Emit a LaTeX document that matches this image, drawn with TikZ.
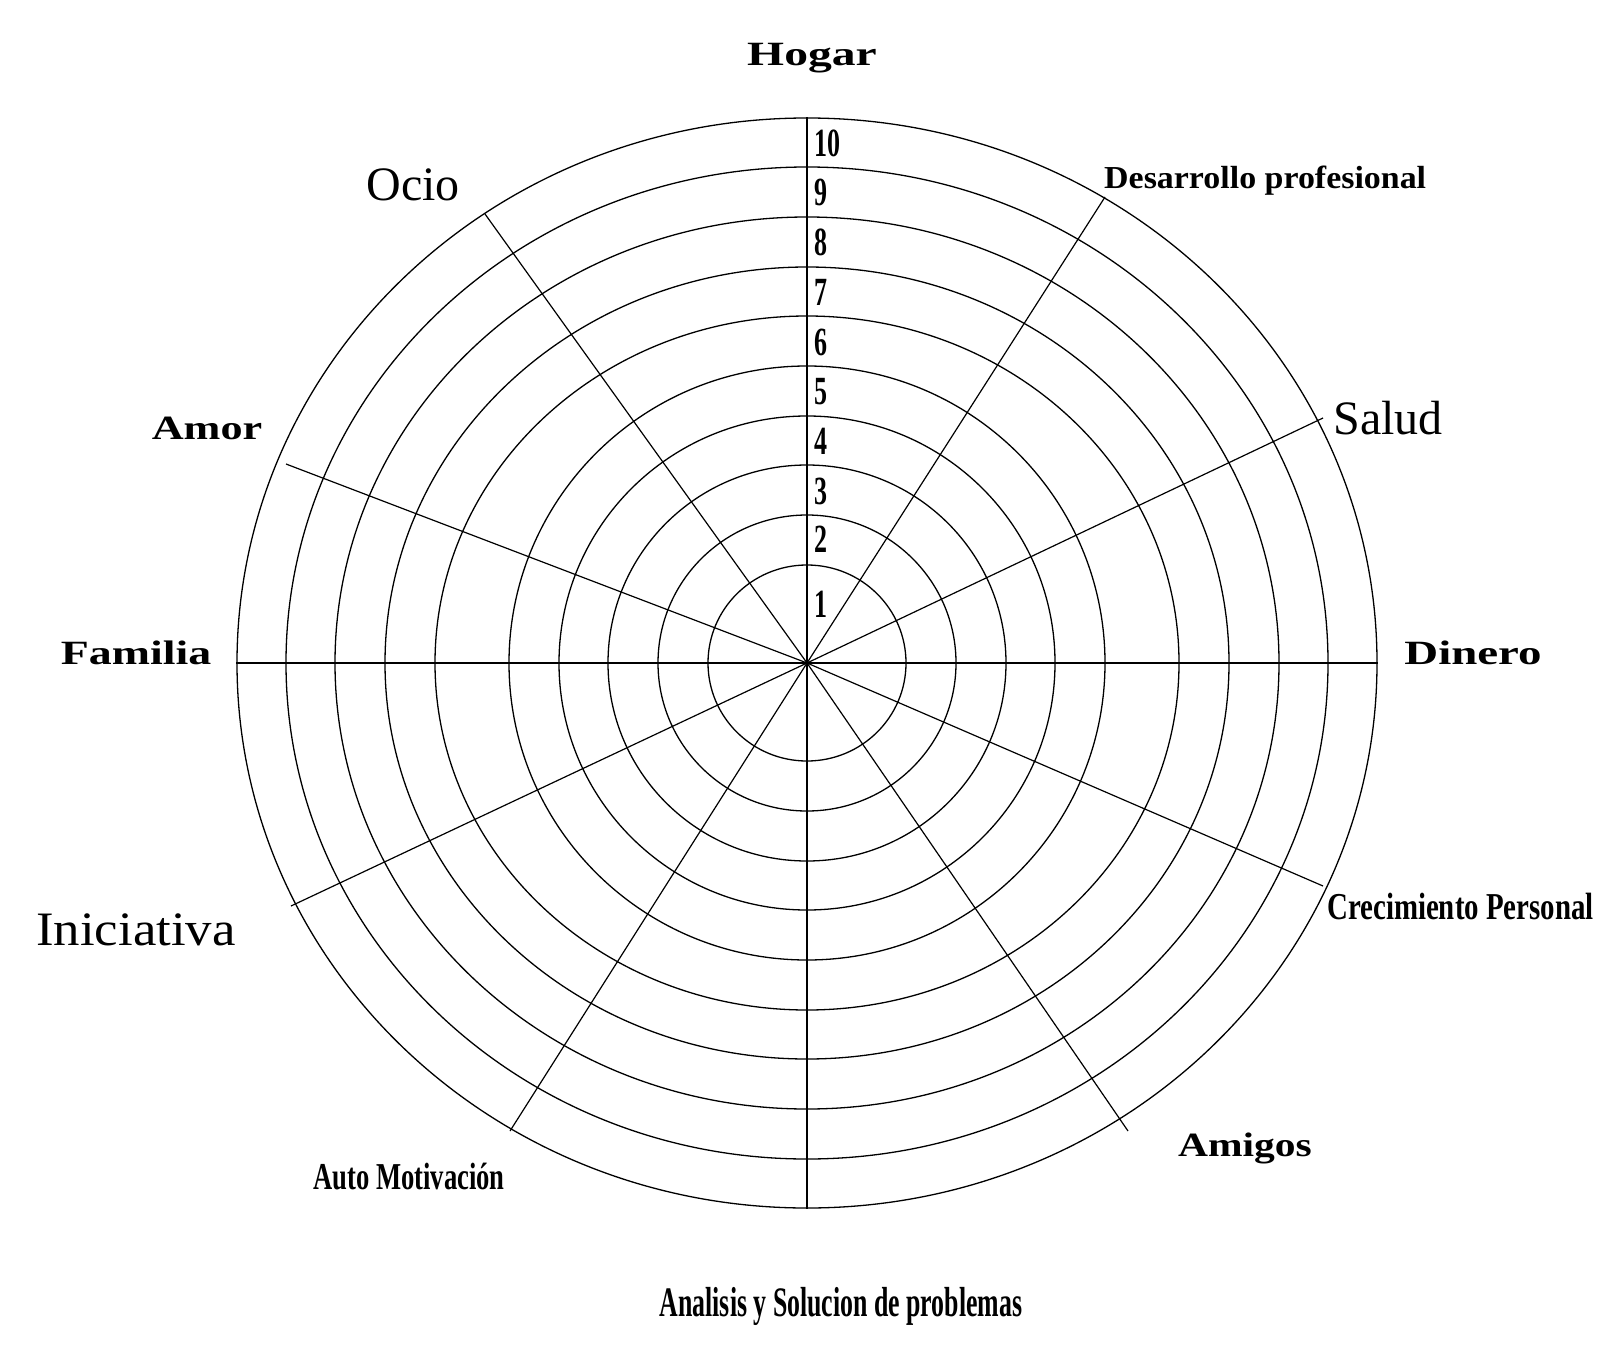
\documentclass[tikz,border=0pt]{standalone}
\usepackage{fontspec}
\usepackage{graphicx}
\setmainfont{Liberation Serif}
\begin{document}
\begin{tikzpicture}[x=1pt,y=-1pt,
  ring/.style={draw=black,line width=1.3pt},
  spoke/.style={draw=black,line width=1.2pt},
  lbl/.style={font=\bfseries\fontsize{34}{38}\selectfont,inner sep=0pt},
  big/.style={font=\fontsize{48}{52}\selectfont,inner sep=0pt},
  num/.style={font=\bfseries\fontsize{40}{42}\selectfont,inner sep=0pt,anchor=south west}]
\useasboundingbox (0,0) rectangle (1600,1351);
\fill[white] (0,0) rectangle (1600,1351);
\coordinate (O) at (807,663);
\foreach \rx/\ry in {99/98,149/148,199/198,248/247,298/297,372/347,422/396,472/446,521/496,570/545}
  \draw[ring] (O) ellipse [x radius=\rx, y radius=\ry];
\coordinate (eT) at (807,117);
\coordinate (eB) at (807,1209);
\coordinate (eL) at (236,663);
\coordinate (eR) at (1378,663);
\coordinate (eDes) at (1105,197);
\coordinate (eSal) at (1323,418);
\coordinate (eCre) at (1323,886);
\coordinate (eAmi) at (1128,1131);
\coordinate (eAut) at (510,1131);
\coordinate (eIni) at (291,906);
\coordinate (eAmo) at (286,464);
\coordinate (eOci) at (485,214);
\foreach \e in {eT,eB,eL,eR,eDes,eSal,eCre,eAmi,eAut,eIni,eAmo,eOci}
  \draw[spoke] (O) -- (\e);
\foreach \n/\y in {10/157,9/206,8/256,7/306,6/356,5/405,4/455,3/505,2/553,1/618}
  \node[num] (n\n) at (814,\y) {\scalebox{0.65}[1]{\n}};
\node[lbl] (hogar) at (812,58) {\scalebox{1.4}[1]{Hogar}};
\node[big] (ocio) at (413,185) {Ocio};
\node[inner sep=0pt,anchor=west,font=\bfseries\fontsize{32}{34}\selectfont] (des) at (1104,181) {\scalebox{1.06}[1]{Desarrollo profesional}};
\node[big] (salud) at (1388,418) {Salud};
\node[lbl] (amor) at (207,428) {\scalebox{1.3}[1]{Amor}};
\node[lbl] (dinero) at (1473,653) {\scalebox{1.38}[1]{Dinero}};
\node[lbl] (familia) at (136,653) {\scalebox{1.35}[1]{Familia}};
\node[inner sep=0pt,anchor=west,font=\bfseries\fontsize{38}{40}\selectfont] (crec) at (1327,906) {\scalebox{0.76}[1]{Crecimiento Personal}};
\node[big] (ini) at (136,930) {\scalebox{1.1}[1]{Iniciativa}};
\node[lbl] (amigos) at (1245,1148) {\scalebox{1.22}[1]{Amigos}};
\node[inner sep=0pt,font=\bfseries\fontsize{38}{40}\selectfont] (auto) at (409,1177) {\scalebox{0.7}[1]{Auto Motivación}};
\node[inner sep=0pt,font=\bfseries\fontsize{42}{44}\selectfont] (anal) at (841,1306) {\scalebox{0.615}[1]{Analisis y Solucion de problemas}};
\end{tikzpicture}
\end{document}
